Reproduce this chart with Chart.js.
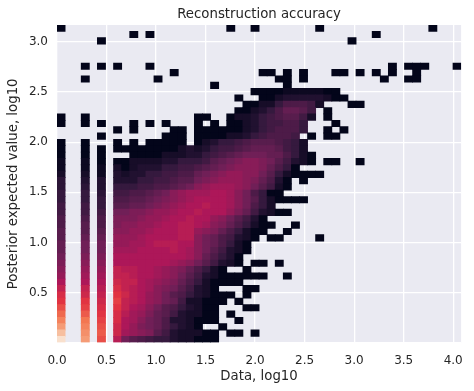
<!DOCTYPE html>
<html>
<head>
  <title>Reconstruction accuracy</title>
  <script src="https://cdn.jsdelivr.net/npm/chart.js"></script>
  <style>
    body { margin: 0; background: #fff; }
  </style>
</head>
<body>
  <canvas id="chart" width="474" height="391"></canvas>

  <script>
    // Histogram extents, log10 units
    const xMax = 4.08;
    const yMax = 3.17;

    // One string per row, top row first, one character per column (spaces only help counting).
    // '.' is an empty bin, otherwise base 36 shade level, 0 darkest to z lightest
    const rows = [
      "0...... ..... ..... ....0 ..0.. ..... 0.... ..... ....0",
      "....... ..0.0 ..... ..... ..... ..... ..... ..0..",
      ".....0. ..... ..... ..... ..... ..... ....0",
      "",
      "",
      "",
      "...0.0. 0...0 ..... ..... ..... ..... ..... ....0 .000. ..0",
      "....... ..... ..0.. ..... ...00 .0.0. ..00. 0.0.0 ..0..",
      "...0... ..... 0.... ..... ..... 00.0. ..... ...0. .00..",
      "....... ..... ..... ..0.. ..... .0...",
      "....... ..... ..... ..... ..000 01111 100",
      "....... ..... ..... ..... 0..00 23333 3200",
      "....... ..... ..... ..... .0022 57776 2...0 0",
      "....... ..... ..... ..... 00235 79986 .0",
      "0..0... ..... ..... 00..0 22356 78862 .0",
      "0..0.0. ..0.0 .0... 0.0.0 02356 6775. ..0",
      "....... 0.0.. ..00. 00000 02356 7775. .0.0",
      ".....0. ..... .000. 00002 23567 776.0 .00",
      "0..0... 0.0.0 0000. 02355 67888 7652",
      "0..0.0. 00000 00023 23566 78999 8652",
      "0..0.0. ..000 02223 35678 9aaa9 97520",
      "1..1.0. 00222 23355 5689a bccba 86320 .00.. 0",
      "1..1.1. 20233 35566 789ab cccb9 750",
      "2..2.1. 32335 56677 9abcd dcca8 52000 0",
      "4..3.3. 33355 66788 abcdd dcb97 30.0",
      "4..4.3. 55566 7789a cdeee dca86 20",
      "5..5.4. 66778 9acde eeffe ca750 0",
      "5..5.5. 77889 abcde ffffe ca852 0000",
      "6..6.5. 8899a bcdef fgffe ca752",
      "6..6.6. aabbc ddeff gfffd b9632 00",
      "7..7.7. bbbcd deffg ffdca 8630",
      "7..8.7. bccdd effgg fecb9 75200 ..0",
      "8..8.8. ccdde fffgg dcb97 5200. .0",
      "8..9.9. dddef fffgg ca976 320.0 0.... 0",
      "9..a.a. ddeef gggff ca975 20",
      "9..a.a. eeeff ffgfe ca863 20",
      "a..b.b. fffff ffffe c9753 0",
      "b..c.c. fffff ffedc a8632 0.00. 0",
      "c..d.d. hggff edcb9 7520. .0",
      "d..e.e. hhgff edca8 63200 0000. .0",
      "f..f.f. ihhfe dcb97 52000 0",
      "h..h.g. jhgfe cba86 320.. .00",
      "j..i.h. kigfd ca875 32000 .0",
      "k..k.i. lhgfd ca962 2000. 0",
      "m..l.j. khfec a8753 200.. .00",
      "o..n.k. jgedb 98632 200.0",
      "q..p.l. jfeca 97332 000.. 0",
      "s..q.m. ifdba 97532 0..0",
      "v..r.n. iedcb 86322 200.0 0.0",
      "y..s.m. ga876 55322 000"
    ];

    // rocket colormap stops
    const rocket = [
      [3, 5, 26], [53, 25, 62], [112, 31, 87], [173, 23, 89],
      [225, 51, 66], [243, 118, 81], [246, 180, 143], [250, 235, 221]
    ];

    const binCount = rows.length;

    function shade(level) {
      const t = level / 35 * (rocket.length - 1);
      const i = Math.min(Math.floor(t), rocket.length - 2);
      const f = t - i;
      const c = rocket[i].map((v, k) => Math.round(v + (rocket[i + 1][k] - v) * f));
      return `rgb(${c[0]},${c[1]},${c[2]})`;
    }

    const cells = [];
    const cellColors = [];
    rows.forEach((row, r) => {
      const chars = row.replace(/ /g, '');
      const low = (binCount - 1 - r) * yMax / binCount;
      for (let c = 0; c < chars.length; c++) {
        if (chars[c] === '.') continue;
        cells.push({ x: (c + 0.5) * xMax / binCount, y: [low, low + yMax / binCount] });
        cellColors.push(shade(parseInt(chars[c], 36)));
      }
    });

    // Seaborn style grey behind the plot
    const plotBackground = {
      id: 'plotBackground',
      beforeDraw(chart) {
        const { ctx, chartArea: a } = chart;
        ctx.save();
        ctx.fillStyle = '#eaeaf2';
        ctx.fillRect(a.left, a.top, a.right - a.left, a.bottom - a.top);
        ctx.restore();
      }
    };

    const textColor = '#262626';
    const fontFamily = '"DejaVu Sans"';

    new Chart(document.getElementById('chart'), {
      type: 'bar',
      data: {
        datasets: [{
          data: cells,
          backgroundColor: cellColors,
          borderWidth: 0,
          barPercentage: 1,
          categoryPercentage: 1,
          inflateAmount: 0.4
        }]
      },
      options: {
        responsive: false,
        animation: false,
        layout: { padding: { right: 10 } },
        plugins: {
          legend: { display: false },
          tooltip: { enabled: false },
          title: {
            display: true,
            fullSize: false,
            text: 'Reconstruction accuracy',
            color: textColor,
            font: { family: fontFamily, size: 13.3, weight: 'normal' },
            padding: { top: 7, bottom: 2 }
          }
        },
        scales: {
          x: {
            type: 'linear',
            offset: false,
            min: 0,
            max: xMax,
            afterFit(scale) { scale.height = 48.3; },
            grid: { color: '#fff', lineWidth: 1.3, offset: false, drawTicks: false },
            border: { display: false },
            ticks: {
              stepSize: 0.5,
              includeBounds: false,
              maxRotation: 0,
              padding: 11,
              color: textColor,
              font: { family: fontFamily, size: 12 },
              callback: v => v.toFixed(1)
            },
            title: {
              display: true,
              text: 'Data, log10',
              color: textColor,
              font: { family: fontFamily, size: 13.3 },
              padding: { top: 3, bottom: 6 }
            }
          },
          y: {
            min: 0,
            max: yMax,
            afterFit(scale) { scale.width = 57; },
            grid: { color: '#fff', lineWidth: 1.3, drawTicks: false },
            border: { display: false },
            ticks: {
              stepSize: 0.5,
              includeBounds: false,
              padding: 9,
              color: textColor,
              font: { family: fontFamily, size: 12 },
              callback: v => v === 0 ? '' : v.toFixed(1)
            },
            title: {
              display: true,
              text: 'Posterior expected value, log10',
              color: textColor,
              font: { family: fontFamily, size: 13.3 },
              padding: { top: 6, bottom: 0 }
            }
          }
        }
      },
      plugins: [plotBackground]
    });
  </script>
</body>
</html>
